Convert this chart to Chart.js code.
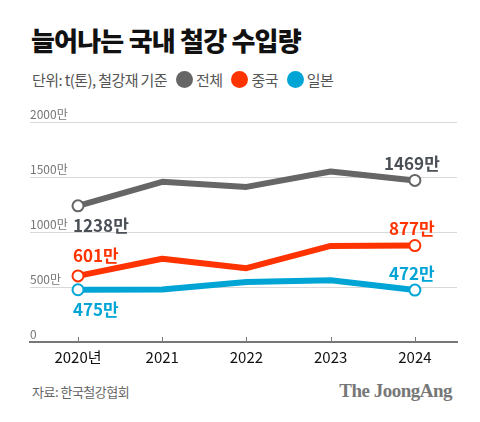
<!DOCTYPE html>
<html>
<head>
<meta charset="utf-8">
<script src="https://cdn.jsdelivr.net/npm/chart.js@4"></script>
<style>
  body { margin: 0; width: 480px; height: 422px; background: #fff; position: relative; overflow: hidden;
         font-family: "Noto Sans CJK KR", "Noto Sans", sans-serif; }
  .title { position: absolute; left: 31px; top: 21px; font-size: 26px; font-weight: 900; letter-spacing: -0.8px; color: #111; }
  .sub { position: absolute; left: 32px; top: 69px; font-size: 15px; letter-spacing: -0.6px; color: #555; display: flex; align-items: center; }
  .dot { display: inline-block; width: 17px; height: 17px; border-radius: 50%; margin: 0 3px 0 9px; }
  .src { position: absolute; left: 32px; top: 382px; font-size: 13px; letter-spacing: -0.5px; color: #666; }
  .logo { position: absolute; right: 28px; top: 380px; font-family: "Liberation Serif", serif; font-weight: bold; font-size: 19px; color: #777; letter-spacing: -0.5px; }
  #wrap { position: absolute; left: 0; top: 100px; width: 480px; height: 280px; }
</style>
</head>
<body>
<div class="title">늘어나는 국내 철강 수입량</div>
<div class="sub">단위: t(톤), 철강재 기준
  <span class="dot" style="background:#666666"></span>전체
  <span class="dot" style="background:#ff3300"></span>중국
  <span class="dot" style="background:#00a5d6"></span>일본
</div>
<div id="wrap"><canvas id="chart"></canvas></div>
<div class="src">자료: 한국철강협회</div>
<div class="logo">The JoongAng</div>

<script>
// values in 만 t
let years = [2020, 2021, 2022, 2023, 2024];
let total = [1238, 1456, 1410, 1550, 1469];
let china = [601, 757, 671, 873, 877];
let japan = [475, 478, 545, 562, 472];
let yTicks = [0, 500, 1000, 1500, 2000];

let colors = ["#666666", "#ff3300", "#00a5d6"];
let labelColors = ["#4b5057", "#ff3300", "#00a5d6"];
// where the end labels sit: first point / last point
let firstPos = ["below", "above", "below"];

function makeSet(data, i) {
    let last = data.length - 1;
    return {
        data: years.map((y, k) => ({ x: y, y: data[k] })),
        borderColor: colors[i],
        borderWidth: 6,
        tension: 0,
        pointRadius: ctx => (ctx.dataIndex === 0 || ctx.dataIndex === last) ? 5.5 : 0,
        pointBackgroundColor: "#fff",
        pointBorderColor: colors[i],
        pointBorderWidth: 2,
        borderJoinStyle: "round"
    };
}

let endLabels = {
    id: "endLabels",
    afterDatasetsDraw(chart) {
        let c = chart.ctx;
        c.save();
        c.font = "bold 17px 'Noto Sans CJK KR', sans-serif";
        c.textBaseline = "middle";
        chart.data.datasets.forEach((ds, i) => {
            let meta = chart.getDatasetMeta(i);
            let n = ds.data.length - 1;
            c.fillStyle = labelColors[i];
            let p0 = meta.data[0];
            c.textAlign = "left";
            let dy = firstPos[i] === "below" ? 20 : -20;
            c.fillText(ds.data[0].y + "만", p0.x - 5, p0.y + dy);
            let p1 = meta.data[n];
            c.textAlign = "center";
            c.fillText(ds.data[n].y + "만", p1.x - 3, p1.y - 17);
        });
        c.restore();
    }
};

let tickMarks = {
    id: "tickMarks",
    afterDraw(chart) {
        let c = chart.ctx;
        let xs = chart.scales.x;
        let bottom = chart.chartArea.bottom;
        c.save();
        c.strokeStyle = "#777";
        c.lineWidth = 1;
        xs.ticks.forEach(t => {
            let x = Math.round(xs.getPixelForValue(t.value)) + 0.5;
            c.beginPath();
            c.moveTo(x, bottom - 5);
            c.lineTo(x, bottom);
            c.stroke();
        });
        c.restore();
    }
};

new Chart(document.getElementById("chart"), {
    type: "line",
    data: {
        datasets: [makeSet(total, 0), makeSet(china, 1), makeSet(japan, 2)]
    },
    options: {
        responsive: true,
        maintainAspectRatio: false,
        animation: false,
        layout: { padding: { left: 30, right: 23, top: 22, bottom: 8 } },
        plugins: { legend: { display: false }, tooltip: { enabled: false } },
        scales: {
            x: {
                type: "linear",
                min: 2019.43,
                max: 2024.5,
                afterBuildTicks: scale => { scale.ticks = years.map(v => ({ value: v })); },
                grid: { display: false, drawTicks: false },
                border: { display: true, color: "#777", width: 2 },
                ticks: {
                    padding: 6,
                    color: "#111",
                    font: { size: 15, family: "'Noto Sans CJK KR', sans-serif" },
                    callback: v => v === years[0] ? v + "년" : String(v)
                }
            },
            y: {
                min: 0,
                max: 2000,
                afterBuildTicks: scale => { scale.ticks = yTicks.map(v => ({ value: v })); },
                border: { display: false },
                grid: {
                    color: ctx => ctx.tick && ctx.tick.value === 0 ? "rgba(0,0,0,0)" : "#d9d9d9",
                    lineWidth: 1,
                    drawTicks: false
                },
                ticks: {
                    mirror: true,
                    padding: 0,
                    labelOffset: -8,
                    color: "#777",
                    font: { size: 12, family: "'Noto Sans CJK KR', sans-serif" },
                    callback: v => v === 0 ? "0" : v + "만"
                }
            }
        }
    },
    plugins: [endLabels, tickMarks]
});
</script>
</body>
</html>
